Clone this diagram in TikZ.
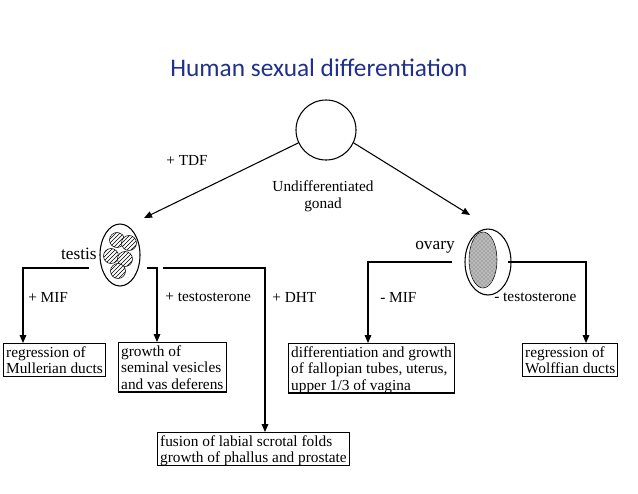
\documentclass[tikz,border=0pt]{standalone}
\usepackage{fontspec}
\setmainfont{Liberation Serif}
\newfontfamily\titlefont{Carlito}
\usetikzlibrary{patterns,arrows.meta,shapes.geometric}
\definecolor{titleblue}{RGB}{32,48,140}
\begin{document}
\begin{tikzpicture}[x=0.75pt,y=-0.75pt,
  lab/.style={font=\fontsize{11.5}{13}\selectfont,inner sep=0pt},
  box/.style={draw,thick,font=\fontsize{11.5}{12.5}\selectfont,align=left,inner sep=2pt,anchor=north west,text depth=0pt},
  arr/.style={thick,-{Triangle[length=6pt,width=5pt]}},
  ln/.style={thick}]
\useasboundingbox (0,0) rectangle (638,493);
\node[font=\titlefont\fontsize{19}{22}\selectfont,text=titleblue] (title) at (319,68) {Human sexual differentiation};
\node[draw,thick,circle,minimum size=60*0.75pt,inner sep=0pt] (gonad) at (326,130) {};
\node[lab,align=center] (ug) at (323,196) {Undifferentiated\\gonad};
\node[lab] (tdf) at (187,160) {+ TDF};
% testis
\node[draw,thick,ellipse,minimum width=40*0.75pt,minimum height=62*0.75pt,inner sep=0pt] (testis) at (120,255) {};
\foreach \i/\p in {1/{(117,240)},2/{(129,243)},3/{(111,256)},4/{(125,259)},5/{(118,271)}}
  \draw[fill=white,postaction={pattern=north east lines}] \p circle[radius=7.5*0.75pt];
\node[lab,anchor=east,font=\fontsize{13}{14}\selectfont] (tl) at (97,254) {testis};
% ovary
\node[draw,thick,ellipse,minimum width=46*0.75pt,minimum height=66*0.75pt,inner sep=0pt] (ovary) at (488,262) {};
\node[draw,ellipse,fill=gray!70,postaction={pattern=crosshatch dots,pattern color=white},minimum width=28*0.75pt,minimum height=56*0.75pt,inner sep=0pt] (ovin) at (483,260) {};
\node[lab,anchor=east,font=\fontsize{13}{14}\selectfont] (ol) at (455,247) {ovary};
% boxes
\node[box] (b1) at (3,343) {regression of\\Mullerian ducts};
\node[box] (b2) at (118,342) {growth of\\seminal vesicles\\and vas deferens};
\node[box] (b3) at (157,432) {fusion of labial scrotal folds\\growth of phallus and prostate};
\node[box] (b4) at (288,343) {differentiation and growth\\of fallopian tubes, uterus,\\upper 1/3 of vagina};
\node[box] (b5) at (522,343) {regression of\\Wolffian ducts};
% arrows from gonad
\coordinate (ta) at (144,218);
\coordinate (oa) at (470,215);
\draw[arr] (gonad.205) -- (ta);
\draw[arr] (gonad.-25) -- (oa);
% testis branches
\coordinate (t1) at (89,268); \coordinate (t1c) at (23,268);
\draw[arr] (t1) -- (t1c) -- (b1.north west -| t1c);
\coordinate (t2) at (147,268); \coordinate (t2c) at (157,268);
\draw[arr] (t2) -- (t2c) -- (b2.north west -| t2c);
\coordinate (t3) at (163,268); \coordinate (t3c) at (265,268);
\draw[arr] (t3) -- (t3c) -- (b3.north west -| t3c);
\node[lab,anchor=west] (mif) at (28,297) {+ MIF};
\node[lab,anchor=west] (tes) at (165,297) {+ testosterone};
\node[lab,anchor=west] (dht) at (272,297) {+ DHT};
% ovary branches
\coordinate (o1) at (452,262); \coordinate (o1c) at (368,262);
\draw[arr] (o1) -- (o1c) -- (b4.north west -| o1c);
\coordinate (o2) at (508,262); \coordinate (o2c) at (586,262);
\draw[arr] (o2) -- (o2c) -- (b5.north west -| o2c);
\node[lab,anchor=west] (nmif) at (380,297) {- MIF};
\node[lab,anchor=west] (ntes) at (494,297) {- testosterone};
\end{tikzpicture}
\end{document}
